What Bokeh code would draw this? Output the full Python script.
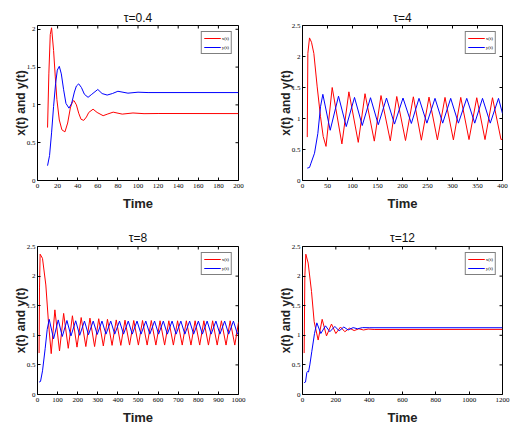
import math
from bokeh.plotting import figure
from bokeh.models import FixedTicker, Range1d
from bokeh.layouts import column, row
from bokeh.embed import file_html
from bokeh.resources import INLINE

# ---------------- data ----------------
titles = ["\u03c4=0.4", "\u03c4=4", "\u03c4=8", "\u03c4=12"]
y_tick_vals = [0, 0.5, 1, 1.5, 2, 2.5]
y_tick_labels = ["0", "0.5", "1", "1.5", "2", "2.5"]

# tau = 0.4
a_tx = [10, 11.3, 12.7, 14, 16, 17.7, 19.3, 21.7, 24.3, 27.3, 30, 32.7, 34.7, 36.3, 38.7, 41, 43.3,
        46, 48.7, 51, 55.3, 59.3, 65.3, 70, 75.3, 84.3, 95, 106, 120, 200]
a_x = [0.70, 1.41, 1.93, 2.02, 1.72, 1.37, 1.07, 0.80, 0.67, 0.643, 0.76, 0.96, 1.04, 1.057, 1.0,
       0.89, 0.81, 0.795, 0.84, 0.90, 0.943, 0.90, 0.857, 0.88, 0.904, 0.878, 0.893, 0.884, 0.886,
       0.885]
a_ty = [10, 12, 14, 16, 18, 19.7, 21.7, 23.7, 26, 28.3, 31.3, 34, 36.7, 38.7, 41, 43.7, 46.7, 50.3,
        54, 60, 64.3, 69.3, 74.5, 80, 90, 100, 110, 200]
a_y = [0.196, 0.33, 0.63, 0.98, 1.28, 1.46, 1.51, 1.41, 1.20, 1.02, 0.957, 1.02, 1.17, 1.25, 1.278,
       1.23, 1.14, 1.10, 1.14, 1.204, 1.15, 1.13, 1.15, 1.18, 1.155, 1.168, 1.163, 1.163]

# tau = 4
b_tx = [9.5, 10.7, 14, 18, 22.7, 29.4, 36, 41.4, 47, 59.4, 78.8, 92.8, 111.5, 125, 143.6, 157, 175.6,
        188.5, 206, 221.7, 237.7, 253, 269.8, 285, 301.8, 316.5, 333, 348.5, 365, 380, 397, 400]
b_x = [0.70, 2.05, 2.30, 2.23, 2.05, 1.51, 1.03, 0.71, 0.55, 1.50, 0.59, 1.43, 0.615, 1.40, 0.635,
       1.37, 0.64, 1.355, 0.645, 1.35, 0.65, 1.345, 0.655, 1.34, 0.655, 1.34, 0.66, 1.335, 0.66,
       1.335, 0.66, 0.67]
b_ty = [9.5, 14, 17, 24, 30.7, 36, 40.7, 55.4, 72, 87.5, 104, 119.5, 136, 151.6, 168, 184, 201,
        217.7, 233, 248.8, 265, 280.4, 296.4, 311.8, 328.5, 344.5, 360, 375.5, 392, 400]
b_y = [0.20, 0.21, 0.28, 0.44, 0.76, 1.19, 1.39, 0.81, 1.36, 0.87, 1.34, 0.887, 1.335, 0.90, 1.33,
       0.91, 1.33, 0.92, 1.325, 0.925, 1.325, 0.925, 1.325, 0.925, 1.325, 0.925, 1.325, 0.925,
       1.325, 1.08]

# tau = 8
c_tx = [8, 10, 13, 24.8, 41.5, 54.8, 68.2, 86.5, 109.5, 130.1, 153, 173.7, 196.5, 217.3, 240.5,
        260.9, 284, 304.5, 327.5, 348.1, 371, 391.7, 414.5, 435.3, 458, 478.9, 502, 522.5, 545.5,
        566.1, 589, 609.7, 632.5, 653.3, 676, 696.9, 720, 740.5, 763.5, 784.1, 807, 827.7, 850.5,
        871.3, 894, 914.9, 938, 958.5, 981.5, 1000]
c_x = [0.70, 1.80, 2.37, 2.30, 1.85, 1.21, 0.69, 1.43, 0.735, 1.37, 0.78, 1.33, 0.80, 1.30, 0.81,
       1.29, 0.81, 1.28, 0.82, 1.27, 0.83, 1.26, 0.83, 1.255, 0.835, 1.25, 0.835, 1.25, 0.835, 1.25,
       0.835, 1.245, 0.835, 1.245, 0.835, 1.245, 0.835, 1.245, 0.835, 1.245, 0.835, 1.245, 0.835,
       1.245, 0.835, 1.245, 0.835, 1.245, 0.835, 1.22]
c_ty = [8, 15, 25, 38.3, 48.3, 58.3, 80, 103.3, 123.3, 146.5, 166.5, 190, 210, 233.6, 253.6, 277.2,
        297.2, 320.8, 340.8, 364.4, 384.4, 408, 428, 451.6, 471.6, 495.2, 515.2, 538.8, 558.8, 582.4,
        602.4, 626, 646, 669.6, 689.6, 713.2, 733.2, 756.8, 776.8, 800.4, 820.4, 844, 864, 887.6,
        907.6, 931.2, 951.2, 974.8, 994.8, 1000]
c_y = [0.21, 0.22, 0.40, 0.78, 1.10, 1.27, 0.94, 1.26, 0.98, 1.25, 0.99, 1.245, 1.00, 1.24, 1.01,
       1.24, 1.015, 1.24, 1.02, 1.24, 1.02, 1.24, 1.02, 1.24, 1.02, 1.24, 1.02, 1.24, 1.02, 1.24,
       1.02, 1.24, 1.02, 1.24, 1.02, 1.24, 1.02, 1.24, 1.02, 1.24, 1.02, 1.24, 1.02, 1.24, 1.02,
       1.24, 1.02, 1.24, 1.02, 1.05]

# tau = 12
d_tx = [10, 14, 20, 34, 54, 70, 94, 118, 144, 174, 200, 228, 254, 282, 310, 338, 366, 394, 430, 1200]
d_x = [0.70, 2.00, 2.37, 2.22, 1.74, 1.23, 0.92, 1.27, 0.99, 1.19, 1.03, 1.14, 1.06, 1.12, 1.08,
       1.11, 1.09, 1.105, 1.098, 1.10]
d_ty = [10, 18, 26, 30, 36, 44, 56, 72, 86, 110, 138, 164, 194, 220, 248, 274, 304, 330, 360, 400, 1200]
d_y = [0.20, 0.21, 0.37, 0.39, 0.38, 0.50, 0.73, 1.03, 1.21, 1.03, 1.16, 1.06, 1.15, 1.075, 1.14,
       1.09, 1.13, 1.11, 1.13, 1.128, 1.128]

x_maxes = [200, 400, 1000, 1200]
x_ticks = [list(range(0, 201, 20)), list(range(0, 401, 50)), list(range(0, 1001, 100)),
           list(range(0, 1201, 200))]
y_maxes = [2.05, 2.5, 2.5, 2.5]

NARROW = "Liberation Sans Narrow"


def panel(i, tx, xv, ty, yv, w, h, bl, br, bt, bb, title_gap):
    p = figure(width=w, height=h, output_backend="svg", toolbar_location=None,
               x_range=Range1d(0, x_maxes[i]), y_range=Range1d(0, y_maxes[i]),
               min_border_left=bl, min_border_right=br, min_border_top=bt, min_border_bottom=bb,
               x_axis_label="Time", y_axis_label="x(t) and y(t)")
    p.title.text = titles[i]
    p.title.align = "center"
    p.title.text_font = "Liberation Sans"
    p.title.text_font_size = "12px"
    p.title.text_font_style = "normal"
    p.title.text_color = "#111111"
    p.title.standoff = title_gap
    p.grid.visible = False
    p.outline_line_color = "black"
    p.outline_line_width = 1
    p.background_fill_color = "white"
    p.border_fill_color = "white"

    xt_vals = x_ticks[i]
    yt_vals = [v for v in y_tick_vals if v <= y_maxes[i]]
    p.xaxis.ticker = FixedTicker(ticks=xt_vals)
    p.yaxis.ticker = FixedTicker(ticks=yt_vals)
    p.yaxis.major_label_overrides = {v: s for v, s in zip(y_tick_vals, y_tick_labels)}
    for ax in p.xaxis + p.yaxis:
        ax.axis_line_color = None
        ax.major_tick_in = 3
        ax.major_tick_out = 0
        ax.minor_tick_in = 0
        ax.minor_tick_out = 0
        ax.major_tick_line_color = "black"
        ax.major_label_text_font = NARROW
        ax.major_label_text_font_size = "7px"
        ax.major_label_text_color = "black"
        ax.axis_label_text_font = "Liberation Sans"
        ax.axis_label_text_font_style = "bold"
        ax.axis_label_text_color = "#222222"
    p.xaxis.major_label_standoff = 3
    p.yaxis.major_label_standoff = 2
    p.xaxis.axis_label_standoff = 5
    p.yaxis.axis_label_standoff = -4
    p.xaxis.axis_label_text_font_size = "13px"
    p.yaxis.axis_label_text_font_size = "12px"

    # mirrored inward ticks on the top and right edges of the box
    p.scatter(xt_vals, [y_maxes[i]] * len(xt_vals), marker="dash", angle=math.pi / 2,
              size=6, line_color="black", line_width=1)
    p.scatter([x_maxes[i]] * len(yt_vals), yt_vals, marker="dash", size=6,
              line_color="black", line_width=1)

    p.line(tx, xv, color="#ff0000", line_width=1, legend_label="x(t)")
    p.line(ty, yv, color="#0000ff", line_width=1, legend_label="y(t)")
    lg = p.legend[0]
    lg.location = "top_right"
    lg.margin = 6
    lg.padding = 2
    lg.spacing = 1
    lg.glyph_width = 17
    lg.glyph_height = 8
    lg.label_standoff = 1
    lg.label_width = 4
    lg.label_height = 8
    lg.label_text_font_size = "5px"
    lg.label_text_font = NARROW
    lg.label_text_color = "black"
    lg.border_line_color = "black"
    lg.border_line_width = 1
    lg.background_fill_alpha = 1
    return p


p1 = panel(0, a_tx, a_x, a_ty, a_y, 272, 226, 37, 34, 25, 45, 2)
p2 = panel(1, b_tx, b_x, b_ty, b_y, 247, 226, 30, 17, 24, 46, 2)
p3 = panel(2, c_tx, c_x, c_ty, c_y, 272, 201, 37, 34, 15, 30, 4)
p4 = panel(3, d_tx, d_x, d_ty, d_y, 247, 201, 30, 17, 15, 30, 4)

layout = column(row(p1, p2), row(p3, p4))
open("out.html", "w").write(file_html(layout, INLINE))
